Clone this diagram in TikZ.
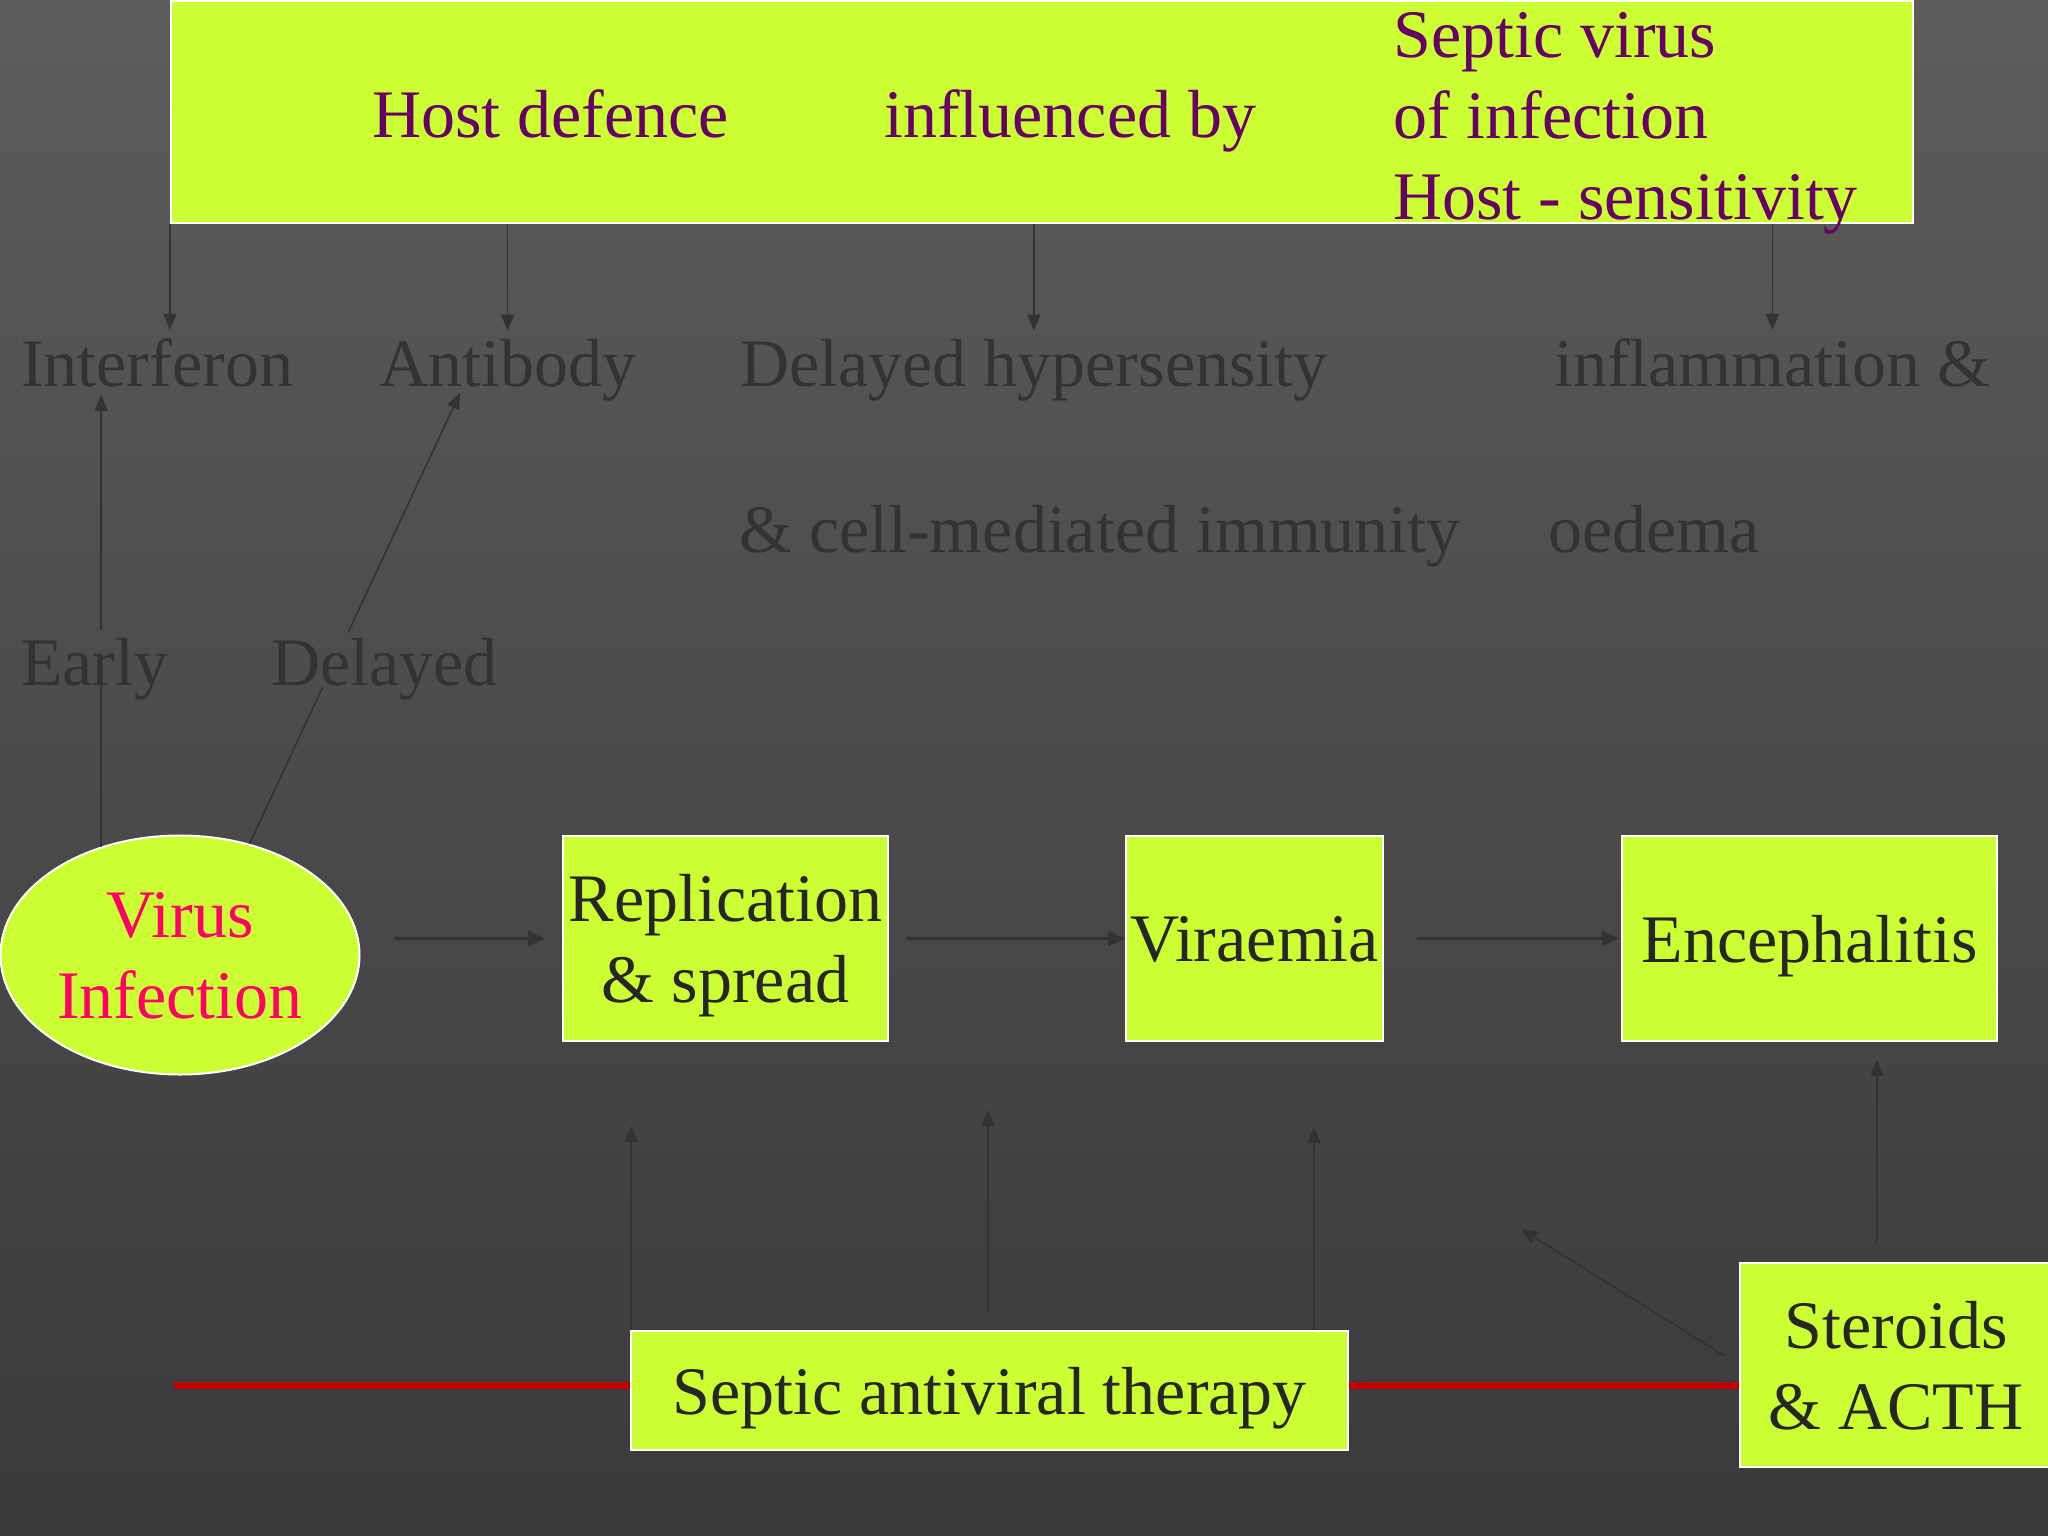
\documentclass[tikz,border=0pt]{standalone}
\usepackage{fontspec}
\setmainfont{Liberation Serif}
\usetikzlibrary{arrows.meta, positioning, shapes.geometric, calc}
\definecolor{ctop}{HTML}{5C5C5C}
\definecolor{cbot}{HTML}{3A393C}
\definecolor{clime}{HTML}{CCFF33}
\definecolor{cpurple}{HTML}{660066}
\definecolor{cpink}{HTML}{FF0066}
\definecolor{cink}{HTML}{262626}
\definecolor{cgrey}{HTML}{333333}
\definecolor{cred}{HTML}{C00000}
\newcommand{\slidefont}{\fontsize{68}{81}\selectfont}
\tikzset{
  every picture/.style={x=1pt, y=1pt},
  box/.style={draw=white, line width=2pt, fill=clime, text=cink, align=center, inner sep=0pt, text depth=0pt, font=\slidefont},
  greytext/.style={text=cgrey, anchor=base west, inner xsep=0pt, inner ysep=8pt, font=\slidefont},
  purpletext/.style={text=cpurple, anchor=base west, align=left, inner sep=0pt, font=\slidefont},
  arrow/.style={-{Triangle[length=17pt, width=15pt]}, draw=cgrey, line width=2.4pt},
  thinarrow/.style={-{Triangle[length=16pt, width=13pt]}, draw=cgrey, line width=1.6pt},
  thinline/.style={draw=cgrey, line width=1.6pt},
  redline/.style={draw=cred, line width=7pt},
}

\begin{document}
\begin{tikzpicture}
  \useasboundingbox (0,0) rectangle (2048,-1536);
  \shade[top color=ctop, bottom color=cbot] (0,0) rectangle (2048,-1536);

  % header box
  \node[box, anchor=north west, minimum width=1742pt, minimum height=222pt] (hostbox) at (170,0) {};
  \node[purpletext] (hostdef) at (372,-138) {Host defence};
  \node[purpletext] (influby) at (884,-138) {influenced by};
  \node[purpletext] (septvir) at (1393,-219) {Septic virus\\of infection\\Host - sensitivity};

  % host responses
  \node[greytext] (interferon) at (21,-386) {Interferon};
  \node[greytext] (antibody) at (379,-386) {Antibody};
  \node[greytext] (delhyp) at (740,-386) {Delayed hypersensity};
  \node[greytext] (inflam) at (1554,-386) {inflammation \&};
  \node[greytext] (cellmed) at (739,-552) {\& cell-mediated immunity};
  \node[greytext] (oedema) at (1548,-552) {oedema};
  \node[greytext] (early) at (21,-685) {Early};
  \node[greytext] (delayed) at (271,-685) {Delayed};

  % course of infection
  \node[ellipse, draw=white, line width=2pt, fill=clime, minimum width=359pt, minimum height=239pt,
        inner sep=0pt, text depth=0pt, text=cpink, align=center, font=\slidefont] (vi) at (180,-955) {Virus\\Infection};
  \node[box, minimum width=325pt, minimum height=205pt] (replic) at (725.5,-938.5) {Replication\\\& spread};
  \node[box, minimum width=257pt, minimum height=205pt] (viraemia) at (1254.5,-938.5) {Viraemia};
  \node[box, minimum width=375pt, minimum height=205pt] (enceph) at (1809.5,-938.5) {Encephalitis};

  % treatment
  \coordinate (redstart) at (174,-1385);
  \node[box, minimum width=717pt, minimum height=119pt] (therapy) at (989.5,-1390.5) {Septic antiviral therapy};
  \node[box, minimum width=312pt, minimum height=204pt] (steroids) at (1896,-1365) {Steroids\\\& ACTH};
  \draw[redline] (redstart) -- (redstart -| therapy.west);
  \draw[redline] (therapy.east |- redstart) -- (steroids.west |- redstart);

  % header arrows
  \draw[thinarrow] (hostbox.south west) -- (hostbox.south west |- interferon.north);
  \draw[thinarrow] (hostbox.south -| antibody.north) -- (antibody.north);
  \draw[thinarrow] (hostbox.south -| delhyp.north) -- (delhyp.north);
  \draw[thinarrow] (hostbox.south -| inflam.north) -- (inflam.north);

  % early and delayed responses
  \draw[thinline] (vi.126) -- (vi.126 |- early.base);
  \draw[thinarrow] (vi.126 |- early.north) -- (vi.126 |- interferon.south);
  \coordinate (abtip) at ([xshift=81pt, yshift=-7pt]antibody.base west);
  \draw[thinline] (vi.58) -- ($(vi.58)!0.348!(abtip)$);
  \draw[thinarrow] ($(vi.58)!0.47!(abtip)$) -- (abtip);

  % main chain
  \draw[arrow, shorten <=33pt, shorten >=17pt] (vi.east |- replic.west) -- (replic.west);
  \draw[arrow, shorten <=17pt] (replic) -- (viraemia);
  \draw[arrow, shorten <=33pt, shorten >=2pt] (viraemia) -- (enceph);

  % treatment arrows
  \coordinate (upA) at (631,-1126);
  \coordinate (upB) at (988,-1110);
  \coordinate (upC) at (1314,-1127);
  \coordinate (upD) at (1521,-1229);
  \coordinate (upE) at (1877,-1060);
  \draw[thinarrow] (upA |- therapy.north) -- (upA);
  \draw[thinarrow, shorten <=18pt] (upB |- therapy.north) -- (upB);
  \draw[thinarrow] (upC |- therapy.north) -- (upC);
  \draw[thinarrow, shorten <=17pt] (steroids.west) -- (upD);
  \draw[thinarrow, shorten <=20pt] (upE |- steroids.north) -- (upE);
\end{tikzpicture}
\end{document}
